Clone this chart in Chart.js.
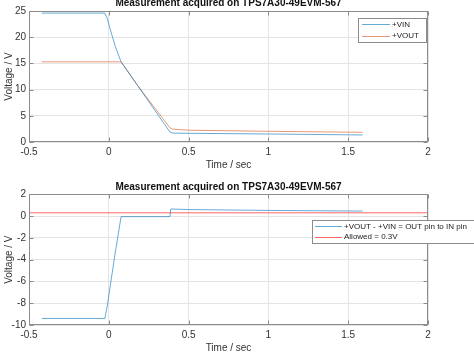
<!DOCTYPE html>
<html>
<head>
<meta charset="utf-8">
<script src="https://cdn.jsdelivr.net/npm/chart.js@4"></script>
<style>
  body { margin: 0; width: 474px; height: 352px; overflow: hidden; background: #fff; position: relative; }
  #topChart { position: absolute; left: 0; top: -4px; }
  #bottomChart { position: absolute; left: 0; top: 176px; }
</style>
</head>
<body>
<canvas id="topChart" width="474" height="180" style="width:474px;height:180px"></canvas>
<canvas id="bottomChart" width="474" height="183" style="width:474px;height:183px"></canvas>
<script>
// data
var chartTitle = "Measurement acquired on TPS7A30-49EVM-567";

var vinTime = [-0.42, -0.025, -0.01, 0.01, 0.04, 0.077, 0.18, 0.383, 0.4, 0.5, 1.0, 1.59];
var vinValues = [24.6, 24.6, 23.6, 21.4, 18.3, 15.3, 10.8, 1.9, 1.7, 1.66, 1.53, 1.34];

var voutTime = [-0.42, 0.077, 0.18, 0.383, 0.4, 0.5, 1.0, 1.59];
var voutValues = [15.3, 15.3, 10.8, 2.7, 2.45, 2.25, 2.04, 1.85];

var diffTime = [-0.42, -0.025, -0.01, 0.01, 0.04, 0.077, 0.383, 0.388, 0.5, 1.0, 1.59];
var diffValues = [-9.4, -9.4, -8.3, -6.3, -3.4, -0.05, -0.05, 0.65, 0.6, 0.52, 0.46];

var allowedTime = [-0.5, 2];
var allowedValues = [0.3, 0.3];

var xTicks = [-0.5, 0, 0.5, 1, 1.5, 2];

var seriesLabels = ["+VIN", "+VOUT", "+VOUT - +VIN = OUT pin to IN pin", "Allowed = 0.3V"];

function toPoints(xs, ys) {
  return xs.map(function (x, i) { return { x: x, y: ys[i] }; });
}

var FONT = "'Liberation Sans', Arial, Helvetica, sans-serif";
var boxColor = "#8c8c8c";
var gridColor = "#e4e4e4";
var textColor = "#333";

// MATLAB-like box, inward ticks and boxed legend
var matlabBox = {
  id: "matlabBox",
  afterDraw: function (chart, args, opts) {
    var ctx = chart.ctx;
    var a = chart.chartArea;
    var xs = chart.scales.x, ys = chart.scales.y;
    var L = Math.round(a.left) + 0.5, R = Math.round(a.right) - 0.5;
    var T = Math.round(a.top) + 0.5, B = Math.round(a.bottom) - 0.5;
    ctx.save();
    ctx.strokeStyle = boxColor;
    ctx.lineWidth = 1;
    ctx.beginPath();
    xs.ticks.forEach(function (t) {
      var px = Math.round(xs.getPixelForValue(t.value)) + 0.5;
      ctx.moveTo(px, B); ctx.lineTo(px, B - 4);
      ctx.moveTo(px, T); ctx.lineTo(px, T + 4);
    });
    ys.ticks.forEach(function (t) {
      var py = Math.round(ys.getPixelForValue(t.value)) + 0.5;
      ctx.moveTo(L, py); ctx.lineTo(L + 4, py);
      ctx.moveTo(R, py); ctx.lineTo(R - 4, py);
    });
    ctx.stroke();
    ctx.strokeRect(L, T, R - L, B - T);

    var lg = opts.legend;
    ctx.fillStyle = "#fff";
    ctx.fillRect(lg.x, lg.y, lg.w, lg.h);
    ctx.strokeStyle = "#8c8c8c";
    ctx.strokeRect(lg.x + 0.5, lg.y + 0.5, lg.w, lg.h);
    ctx.font = "8px " + FONT;
    ctx.textBaseline = "middle";
    chart.data.datasets.forEach(function (ds, i) {
      var y = lg.y + lg.rowTop + i * lg.rowGap;
      ctx.strokeStyle = ds.borderColor;
      ctx.beginPath();
      ctx.moveTo(lg.x + lg.lineStart, Math.round(y) + 0.5);
      ctx.lineTo(lg.x + lg.lineEnd, Math.round(y) + 0.5);
      ctx.stroke();
      ctx.fillStyle = "#222";
      ctx.fillText(ds.label, lg.x + lg.textStart, y);
    });
    ctx.restore();
  }
};

function makeScales(yMin, yMax, yStep) {
  return {
    x: {
      type: "linear",
      min: -0.5,
      max: 2,
      afterBuildTicks: function (s) { s.ticks = xTicks.map(function (v) { return { value: v }; }); },
      afterFit: function (s) { s.height = 34; },
      grid: { color: gridColor, drawTicks: false },
      border: { display: false },
      ticks: {
        padding: 4,
        color: textColor,
        font: { size: 10, family: FONT },
        maxRotation: 0,
        callback: function (v) { return String(v); }
      },
      title: {
        display: true,
        text: "Time / sec",
        color: textColor,
        font: { size: 10, family: FONT },
        padding: { top: 0, bottom: 5 }
      }
    },
    y: {
      min: yMin,
      max: yMax,
      ticks: {
        stepSize: yStep,
        padding: 3,
        color: textColor,
        font: { size: 10, family: FONT },
        callback: function (v) { return String(v); }
      },
      afterFit: function (s) { s.width = 29; },
      grid: { color: gridColor, drawTicks: false },
      border: { display: false },
      title: {
        display: true,
        text: "Voltage / V",
        color: textColor,
        font: { size: 10, family: FONT },
        padding: { top: 3, bottom: 0 }
      }
    }
  };
}

function lineSet(label, points, color) {
  return {
    label: label,
    data: points,
    borderColor: color,
    borderWidth: 1,
    pointRadius: 0,
    tension: 0,
    fill: false
  };
}

var topChart = new Chart(document.getElementById("topChart").getContext("2d"), {
  type: "line",
  data: {
    datasets: [
      lineSet(seriesLabels[0], toPoints(vinTime, vinValues), "rgba(0,114,189,0.6)"),
      lineSet(seriesLabels[1], toPoints(voutTime, voutValues), "rgba(217,83,25,0.6)")
    ]
  },
  options: {
    responsive: false,
    animation: false,
    layout: { padding: { left: 0, right: 46, top: 0, bottom: 0 } },
    scales: makeScales(0, 25, 5),
    plugins: {
      legend: { display: false },
      tooltip: { enabled: false },
      title: {
        display: true,
        text: chartTitle,
        fullSize: false,
        color: "#111",
        font: { size: 10, weight: "bold", family: FONT },
        padding: { top: 1.5, bottom: 1.5 }
      },
      matlabBox: {
        legend: { x: 358, y: 22, w: 68, h: 24, rowTop: 6.3, rowGap: 11.7, lineStart: 4, lineEnd: 32, textStart: 34 }
      }
    }
  },
  plugins: [matlabBox]
});

var bottomChart = new Chart(document.getElementById("bottomChart").getContext("2d"), {
  type: "line",
  data: {
    datasets: [
      lineSet(seriesLabels[2], toPoints(diffTime, diffValues), "rgba(0,114,189,0.6)"),
      lineSet(seriesLabels[3], toPoints(allowedTime, allowedValues), "rgba(255,0,0,0.6)")
    ]
  },
  options: {
    responsive: false,
    animation: false,
    layout: { padding: { left: 0, right: 46, top: 0, bottom: 0 } },
    scales: makeScales(-10, 2, 2),
    plugins: {
      legend: { display: false },
      tooltip: { enabled: false },
      title: {
        display: true,
        text: chartTitle,
        fullSize: false,
        color: "#111",
        font: { size: 10, weight: "bold", family: FONT },
        padding: { top: 5, bottom: 1.3 }
      },
      matlabBox: {
        legend: { x: 312, y: 44, w: 164, h: 23, rowTop: 6.3, rowGap: 10.5, lineStart: 3, lineEnd: 30, textStart: 32 }
      }
    }
  },
  plugins: [matlabBox]
});
</script>
</body>
</html>
